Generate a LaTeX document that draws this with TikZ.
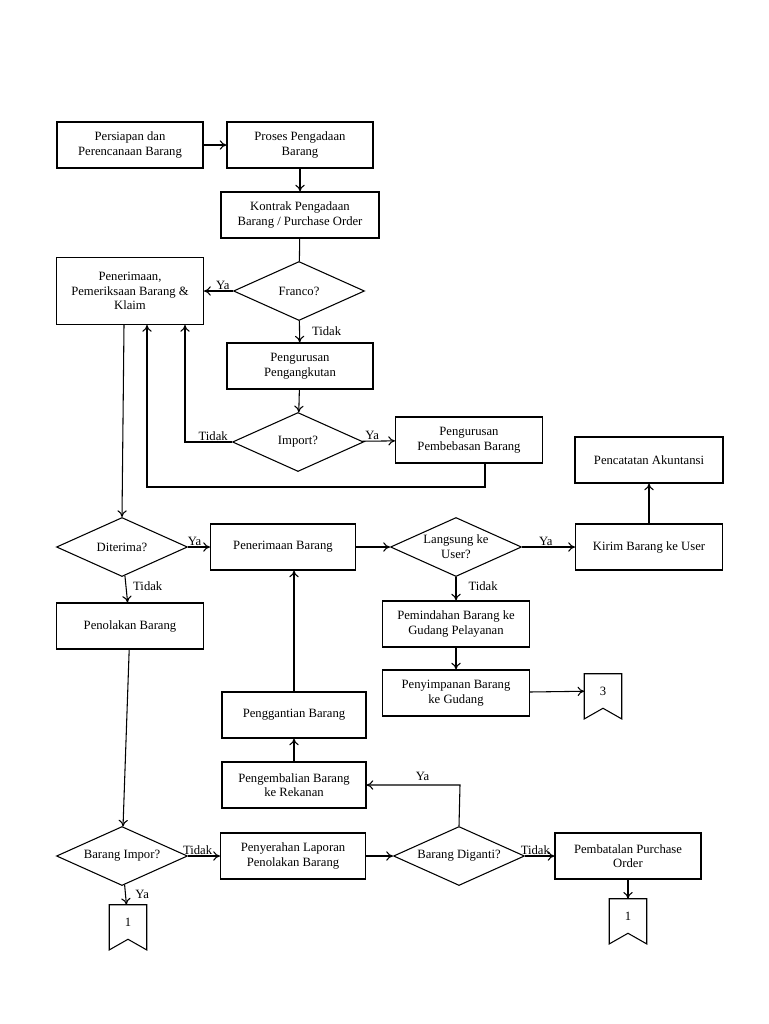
\documentclass[tikz,border=0pt]{standalone}
\usepackage{fontspec}
\setmainfont{Liberation Serif}
\usetikzlibrary{shapes.geometric,arrows.meta}
\begin{document}
\begin{tikzpicture}[x=0.75pt,y=-0.75pt,
  font=\fontsize{9.5pt}{11pt}\selectfont,
  box/.style={draw,thick,align=center,minimum width=146*0.75pt,minimum height=46*0.75pt,inner sep=1pt},
  dia/.style={draw,thick,diamond,aspect=2.25,minimum width=131*0.75pt,minimum height=59*0.75pt,inner sep=0pt,align=center},
  op/.style={minimum width=37*0.75pt,minimum height=34*0.75pt,inner sep=0pt},
  ar/.style={thick,-{To[length=5pt,width=7pt]}},
  ln/.style={thick},
  lb/.style={inner sep=1pt}]
\useasboundingbox (0,0) rectangle (768,1024);
\node[box] (a) at (130,145) {Persiapan dan\\Perencanaan Barang};
\node[box] (b) at (300,145) {Proses Pengadaan\\Barang};
\node[box,minimum width=158*0.75pt] (c) at (300,215) {Kontrak Pengadaan\\Barang / Purchase Order};
\node[box,minimum width=147*0.75pt,minimum height=67*0.75pt] (d) at (130,291) {Penerimaan,\\Pemeriksaan Barang \&\\Klaim};
\node[dia] (fr) at (299,291) {Franco?};
\node[box] (pp) at (300,366) {Pengurusan\\Pengangkutan};
\node[dia] (im) at (298,442) {Import?};
\node[box,minimum width=147*0.75pt] (pb) at (469,440) {Pengurusan\\Pembebasan Barang};
\node[box,minimum width=148*0.75pt] (pc) at (649,460) {Pencatatan Akuntansi};
\node[dia] (dt) at (122,547) {Diterima?};
\node[box,minimum width=145*0.75pt] (pn) at (283,547) {Penerimaan Barang};
\node[dia] (lg) at (456,547) {Langsung ke\\User?};
\node[box,minimum width=147*0.75pt] (kr) at (649,547) {Kirim Barang ke User};
\node[box,minimum width=147*0.75pt] (pl) at (130,626) {Penolakan Barang};
\node[box,minimum width=147*0.75pt] (pm) at (456,624) {Pemindahan Barang ke\\Gudang Pelayanan};
\node[box,minimum width=147*0.75pt] (ps) at (456,693) {Penyimpanan Barang\\ke Gudang};
\node[op] (o3) at (603,691) {3};
\node[box,minimum width=144*0.75pt] (pg) at (294,715) {Penggantian Barang};
\node[box,minimum width=144*0.75pt] (pk) at (294,785) {Pengembalian Barang\\ke Rekanan};
\node[dia] (bi) at (122,856) {Barang Impor?};
\node[box,minimum width=145*0.75pt] (py) at (293,856) {Penyerahan Laporan\\Penolakan Barang};
\node[dia] (bd) at (459,856) {Barang Diganti?};
\node[box,minimum width=146*0.75pt] (pt) at (628,856) {Pembatalan Purchase\\Order};
\node[op] (o1) at (128,922) {1};
\node[op] (o2) at (628,916) {1};
\foreach \o in {o3,o1,o2}{
  \draw[thick] (\o.north west)--(\o.north east)--([yshift=-8pt]\o.south east)--(\o.south)--([yshift=-8pt]\o.south west)--cycle;}
\draw[ar] (a)--(b);
\draw[ar] (b)--(c);
\draw[ln] (c)--(fr);
\draw[ar] (fr)--(d) node[lb,pos=0.35,above]{Ya};
\draw[ar] (fr)--(pp) node[lb,pos=0.5,right=8pt]{Tidak};
\draw[ar] (pp)--(im);
\draw[ar] (im)--(pb) node[lb,pos=0.3,above]{Ya};
\draw[ar] (im.west)--(185,442) node[lb,pos=0.4,above]{Tidak} -- (185,325);
\draw[ar] (pb.south -| 485,0)--(485,487)--(147,487)--(147,325);
\draw[ar] (124,325)--(dt.north);
\draw[ar] (dt)--(pn) node[lb,pos=0.3,above]{Ya};
\draw[ar] (dt)--(pl) node[lb,pos=0.4,right=4pt]{Tidak};
\draw[ar] (pn)--(lg);
\draw[ar] (lg)--(kr) node[lb,pos=0.45,above]{Ya};
\draw[ar] (lg)--(pm) node[lb,pos=0.4,right=8pt]{Tidak};
\draw[ar] (kr)--(pc);
\draw[ar] (pm)--(ps);
\draw[ar] (ps)--(o3);
\draw[ar] (pg.north)--(pn.south -| pg.north);
\draw[ar] (pk)--(pg);
\draw[ar] (pl)--(bi);
\draw[ar] (bi)--(py) node[lb,pos=0.3,above]{Tidak};
\draw[ar] (bi)--(o1) node[lb,pos=0.5,right=6pt]{Ya};
\draw[ar] (py)--(bd);
\draw[ar] (bd.north)--(460,785) -- (pk.east) node[lb,pos=0.4,above=2pt]{Ya};
\draw[ar] (bd)--(pt) node[lb,pos=0.35,above]{Tidak};
\draw[ar] (pt)--(o2);
\end{tikzpicture}
\end{document}
